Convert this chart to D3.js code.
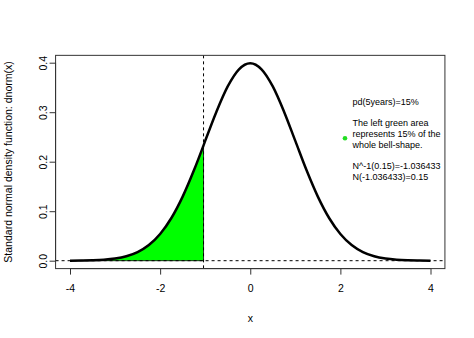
<!DOCTYPE html>
<html lang="en">
<head>
    <meta charset="UTF-8">
    <title>Standard normal density</title>
    <script src="https://d3js.org/d3.v7.min.js"></script>
    <style>
        body { margin: 0; background: white; }
        svg text { font-family: "Liberation Sans", Arial, sans-serif; fill: #000; }
    </style>
</head>
<body>
    <div id="chart"></div>

    <script>
        // x positions and density values
        const xValues = [-4, -3.75, -3.5, -3.25, -3, -2.75, -2.5, -2.25, -2, -1.75, -1.5, -1.25, -1,
                         -0.75, -0.5, -0.25, 0, 0.25, 0.5, 0.75, 1, 1.25, 1.5, 1.75, 2,
                         2.25, 2.5, 2.75, 3, 3.25, 3.5, 3.75, 4];
        const yValues = [0.0001, 0.0004, 0.0009, 0.002, 0.0044, 0.0091, 0.0175, 0.0317, 0.054, 0.0863, 0.1295, 0.1826, 0.242,
                         0.3011, 0.3521, 0.3867, 0.3989, 0.3867, 0.3521, 0.3011, 0.242, 0.1826, 0.1295, 0.0863, 0.054,
                         0.0317, 0.0175, 0.0091, 0.0044, 0.002, 0.0009, 0.0004, 0.0001];

        // cut-off point of the shaded area
        const cutX = -1.036433;
        const cutY = 0.2331;

        const xTicks = [-4, -2, 0, 2, 4];
        const yTicks = [0, 0.1, 0.2, 0.3, 0.4];

        const noteLines = [
            "pd(5years)=15%",
            "",
            "The left green area",
            "represents 15% of the",
            "whole bell-shape.",
            "",
            "N^-1(0.15)=-1.036433",
            "N(-1.036433)=0.15"
        ];

        const width = 474, height = 338;

        const svg = d3.select("#chart")
            .append("svg")
            .attr("width", width)
            .attr("height", height);

        // scales (R style: 4% padding beyond data range)
        const xScale = d3.scaleLinear().domain([-4, 4]).range([70, 430.5]);
        const yScale = d3.scaleLinear().domain([0, 0.4]).range([260.7, 62.7]);

        const xPad = 8 * 0.04, yPad = 0.3989 * 0.04;
        const boxL = xScale(-4 - xPad), boxR = xScale(4 + xPad);
        const boxT = yScale(0.3989 + yPad), boxB = yScale(0 - yPad);

        const points = xValues.map((x, i) => ({ x: x, y: yValues[i] }));
        const leftPts = points.filter(d => d.x < cutX).concat([{ x: cutX, y: cutY }]);

        // green shaded polygon
        const area = d3.area()
            .x(d => xScale(d.x))
            .y0(yScale(0))
            .y1(d => yScale(d.y))
            .curve(d3.curveMonotoneX);

        svg.append("path")
            .datum(leftPts)
            .attr("d", area)
            .attr("fill", "#00ff00")
            .attr("stroke", "#000")
            .attr("stroke-width", 0.8);

        // dashed reference lines
        svg.append("line")
            .attr("x1", boxL).attr("x2", boxR)
            .attr("y1", yScale(0)).attr("y2", yScale(0))
            .attr("stroke", "#000")
            .attr("stroke-width", 1)
            .attr("stroke-dasharray", "3,3");

        svg.append("line")
            .attr("x1", xScale(cutX)).attr("x2", xScale(cutX))
            .attr("y1", boxT).attr("y2", boxB)
            .attr("stroke", "#000")
            .attr("stroke-width", 1)
            .attr("stroke-dasharray", "3,3");

        // density curve
        const line = d3.line()
            .x(d => xScale(d.x))
            .y(d => yScale(d.y))
            .curve(d3.curveMonotoneX);

        const curvePts = points.filter(d => d.x < cutX)
            .concat([{ x: cutX, y: cutY }])
            .concat(points.filter(d => d.x > cutX));

        svg.append("path")
            .datum(curvePts)
            .attr("d", line)
            .attr("fill", "none")
            .attr("stroke", "#000")
            .attr("stroke-width", 2.5);

        // plot box
        svg.append("rect")
            .attr("x", boxL).attr("y", boxT)
            .attr("width", boxR - boxL).attr("height", boxB - boxT)
            .attr("fill", "none")
            .attr("stroke", "#333")
            .attr("stroke-width", 1);

        // X axis
        const xAxis = svg.append("g")
            .attr("transform", "translate(0," + boxB + ")")
            .call(d3.axisBottom(xScale).tickValues(xTicks).tickSize(6).tickPadding(10).tickFormat(d3.format("d")));
        xAxis.select(".domain").attr("d", "M" + xScale(-4) + ",0H" + xScale(4)).attr("stroke", "#333");
        xAxis.selectAll(".tick line").attr("stroke", "#333");
        xAxis.selectAll("text")
            .style("font-size", "10.5px")
            .text(d => d < 0 ? "-" + Math.abs(d) : d);

        // Y axis
        const yAxis = svg.append("g")
            .attr("transform", "translate(" + boxL + ",0)")
            .call(d3.axisLeft(yScale).tickValues(yTicks).tickSize(6).tickFormat(d3.format(".1f")));
        yAxis.select(".domain").attr("d", "M0," + yScale(0) + "V" + yScale(0.4)).attr("stroke", "#333");
        yAxis.selectAll(".tick line").attr("stroke", "#333");
        yAxis.selectAll("text")
            .style("font-size", "10.5px")
            .attr("x", null).attr("dy", null)
            .attr("text-anchor", "middle")
            .attr("transform", "translate(-9,0) rotate(-90)");

        // axis labels
        svg.append("text")
            .attr("x", (boxL + boxR) / 2)
            .attr("y", 322)
            .attr("text-anchor", "middle")
            .style("font-size", "10.5px")
            .text("x");

        svg.append("text")
            .attr("transform", "translate(12," + ((boxT + boxB) / 2) + ") rotate(-90)")
            .attr("text-anchor", "middle")
            .style("font-size", "10.5px")
            .text("Standard normal density function: dnorm(x)");

        // note text with green marker
        svg.append("circle")
            .attr("cx", 345).attr("cy", 138.3)
            .attr("r", 2.3)
            .attr("fill", "#22dd22");

        svg.append("g").selectAll("text")
            .data(noteLines)
            .enter()
            .append("text")
            .attr("x", 352.5)
            .attr("y", (d, i) => 105 + i * 10.7)
            .style("font-size", "9px")
            .text(d => d);
    </script>
</body>
</html>
